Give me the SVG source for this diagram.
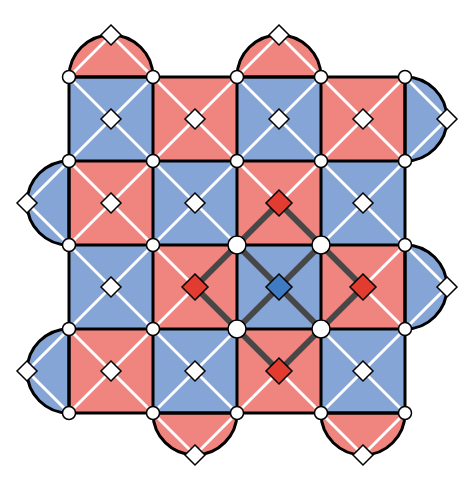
<svg xmlns="http://www.w3.org/2000/svg" xmlns:xlink="http://www.w3.org/1999/xlink" width="474" height="486" viewBox="0 0 474 486">
<style>
.b{fill:#86a5d7}
.r{fill:#f0847e}
.w{stroke:#fff;stroke-width:3;fill:none}
.g{stroke:#000;stroke-width:3;fill:none}
.arc{stroke:#000;stroke-width:3}
.v{fill:#fff;stroke:#000;stroke-width:1.5}
.dw{fill:#fff;stroke:#000;stroke-width:1.5}
.dr{fill:#e23b30;stroke:#000;stroke-width:1.5}
.db{fill:#3e7bc2;stroke:#000;stroke-width:1.5}
.gl{stroke:#474747;stroke-width:6;fill:none;stroke-linecap:round;stroke-linejoin:round}
</style>
<defs>
<path id="dS" d="M0,-10 L10,0 L0,10 L-10,0 Z"/>
<path id="dL" d="M0,-13 L13,0 L0,13 L-13,0 Z"/>
</defs>
<g id="squares">
<rect class="b" x="69" y="77" width="84" height="84"/>
<rect class="r" x="153" y="77" width="84" height="84"/>
<rect class="b" x="237" y="77" width="84" height="84"/>
<rect class="r" x="321" y="77" width="84" height="84"/>
<rect class="r" x="69" y="161" width="84" height="84"/>
<rect class="b" x="153" y="161" width="84" height="84"/>
<rect class="r" x="237" y="161" width="84" height="84"/>
<rect class="b" x="321" y="161" width="84" height="84"/>
<rect class="b" x="69" y="245" width="84" height="84"/>
<rect class="r" x="153" y="245" width="84" height="84"/>
<rect class="b" x="237" y="245" width="84" height="84"/>
<rect class="r" x="321" y="245" width="84" height="84"/>
<rect class="r" x="69" y="329" width="84" height="84"/>
<rect class="b" x="153" y="329" width="84" height="84"/>
<rect class="r" x="237" y="329" width="84" height="84"/>
<rect class="b" x="321" y="329" width="84" height="84"/>
</g>
<g id="caps">
<path class="r arc" d="M69,77 A42,42 0 0 1 153,77 Z"/>
<path class="r arc" d="M237,77 A42,42 0 0 1 321,77 Z"/>
<path class="b arc" d="M405,77 A42,42 0 0 1 405,161 Z"/>
<path class="b arc" d="M405,245 A42,42 0 0 1 405,329 Z"/>
<path class="r arc" d="M237,413 A42,42 0 0 1 153,413 Z"/>
<path class="r arc" d="M405,413 A42,42 0 0 1 321,413 Z"/>
<path class="b arc" d="M69,245 A42,42 0 0 1 69,161 Z"/>
<path class="b arc" d="M69,413 A42,42 0 0 1 69,329 Z"/>
</g>
<g id="white-lines" class="w">
<path d="M69,77 L405,413 M153,77 L405,329 M237,77 L405,245 M321,77 L405,161 M69,161 L321,413 M69,245 L237,413 M69,329 L153,413"/>
<path d="M405,77 L69,413 M321,77 L69,329 M237,77 L69,245 M153,77 L69,161 M405,161 L153,413 M405,245 L237,413 M405,329 L321,413"/>
<path d="M69,77 L111,35 L153,77 M237,77 L279,35 L321,77 M405,77 L447,119 L405,161 M405,245 L447,287 L405,329 M237,413 L195,455 L153,413 M405,413 L363,455 L321,413 M69,245 L27,203 L69,161 M69,413 L27,371 L69,329"/>
</g>
<g id="grid" class="g">
<path d="M69,77 H405 M69,161 H405 M69,245 H405 M69,329 H405 M69,413 H405 M69,77 V413 M153,77 V413 M237,77 V413 M321,77 V413 M405,77 V413"/>
</g>
<g id="connectors" class="gl">
<path d="M279,203 L363,287 L279,371 L195,287 Z M237,245 L321,329 M321,245 L237,329"/>
</g>
<g id="vertices">
<circle class="v" cx="69" cy="77" r="6.5"/><circle class="v" cx="153" cy="77" r="6.5"/><circle class="v" cx="237" cy="77" r="6.5"/><circle class="v" cx="321" cy="77" r="6.5"/><circle class="v" cx="405" cy="77" r="6.5"/>
<circle class="v" cx="69" cy="161" r="6.5"/><circle class="v" cx="153" cy="161" r="6.5"/><circle class="v" cx="237" cy="161" r="6.5"/><circle class="v" cx="321" cy="161" r="6.5"/><circle class="v" cx="405" cy="161" r="6.5"/>
<circle class="v" cx="69" cy="245" r="6.5"/><circle class="v" cx="153" cy="245" r="6.5"/><circle class="v" cx="237" cy="245" r="9"/><circle class="v" cx="321" cy="245" r="9"/><circle class="v" cx="405" cy="245" r="6.5"/>
<circle class="v" cx="69" cy="329" r="6.5"/><circle class="v" cx="153" cy="329" r="6.5"/><circle class="v" cx="237" cy="329" r="9"/><circle class="v" cx="321" cy="329" r="9"/><circle class="v" cx="405" cy="329" r="6.5"/>
<circle class="v" cx="69" cy="413" r="6.5"/><circle class="v" cx="153" cy="413" r="6.5"/><circle class="v" cx="237" cy="413" r="6.5"/><circle class="v" cx="321" cy="413" r="6.5"/><circle class="v" cx="405" cy="413" r="6.5"/>
</g>
<g id="diamonds">
<use xlink:href="#dS" class="dw" x="111" y="35"/><use xlink:href="#dS" class="dw" x="279" y="35"/>
<use xlink:href="#dS" class="dw" x="447" y="119"/><use xlink:href="#dS" class="dw" x="447" y="287"/>
<use xlink:href="#dS" class="dw" x="195" y="455"/><use xlink:href="#dS" class="dw" x="363" y="455"/>
<use xlink:href="#dS" class="dw" x="27" y="203"/><use xlink:href="#dS" class="dw" x="27" y="371"/>
<use xlink:href="#dS" class="dw" x="111" y="119"/><use xlink:href="#dS" class="dw" x="195" y="119"/><use xlink:href="#dS" class="dw" x="279" y="119"/><use xlink:href="#dS" class="dw" x="363" y="119"/>
<use xlink:href="#dS" class="dw" x="111" y="203"/><use xlink:href="#dS" class="dw" x="195" y="203"/><use xlink:href="#dS" class="dw" x="363" y="203"/>
<use xlink:href="#dS" class="dw" x="111" y="287"/>
<use xlink:href="#dS" class="dw" x="111" y="371"/><use xlink:href="#dS" class="dw" x="195" y="371"/><use xlink:href="#dS" class="dw" x="363" y="371"/>
<use xlink:href="#dL" class="dr" x="279" y="203"/><use xlink:href="#dL" class="dr" x="195" y="287"/><use xlink:href="#dL" class="dr" x="363" y="287"/><use xlink:href="#dL" class="dr" x="279" y="371"/>
<use xlink:href="#dL" class="db" x="279" y="287"/>
</g>
</svg>
